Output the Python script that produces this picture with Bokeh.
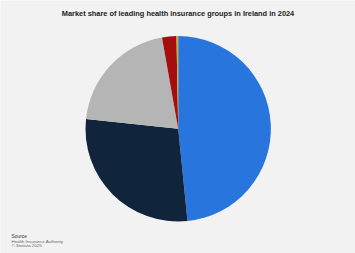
import numpy as np
from bokeh.plotting import figure
from bokeh.models import ColumnDataSource, Range1d
from bokeh.core.properties import value
from bokeh.embed import file_html
from bokeh.resources import INLINE

title = "Market share of leading health insurance groups in Ireland in 2024"
groups = ["Vhi Healthcare", "Laya Healthcare", "Irish Life Health", "Level Health", "Other"]
shares = [48.4, 28.3, 20.5, 2.5, 0.3]
colors = ["#2876dd", "#10253b", "#b5b5b5", "#a50e0e", "#b7b43a"]
source_lines = ["Source", "Health Insurance Authority", "\u00a9 Statista 2025"]

W, H = 355, 253
p = figure(width=W, height=H, output_backend="svg", toolbar_location=None,
           x_range=Range1d(0, W), y_range=Range1d(0, H), min_border=0)
p.axis.visible = False
p.grid.visible = False
p.outline_line_color = None
p.background_fill_color = "#f2f2f2"
p.border_fill_color = "#f2f2f2"

vals = np.array(shares, dtype=float)
frac = vals / vals.sum()
cum = np.concatenate([[0], np.cumsum(frac)])
start = np.pi / 2 - 2 * np.pi * cum[:-1]
end = np.pi / 2 - 2 * np.pi * cum[1:]
src = ColumnDataSource(dict(start=start, end=end, color=colors, name=groups))
p.wedge(x=177.7, y=H - 128.3, radius=92.7, start_angle="start", end_angle="end",
        direction="clock", fill_color="color", line_color=None, source=src)

p.text(x=[W / 2], y=[H - 13], text=[title], text_align="center", text_baseline="middle",
       text_font=value("Liberation Sans"), text_font_style="bold", text_font_size="7.4px",
       text_color="#222222")

ys = [H - 236, H - 240.7, H - 245.2]
p.text(x=[11] * 3, y=ys, text=source_lines, text_align="left", text_baseline="middle",
       text_font=value("Liberation Sans"), text_font_size=["4.9px", "4.4px", "4.4px"],
       text_color=["#333333", "#666666", "#666666"])

open("out.html", "w").write(file_html(p, INLINE))
